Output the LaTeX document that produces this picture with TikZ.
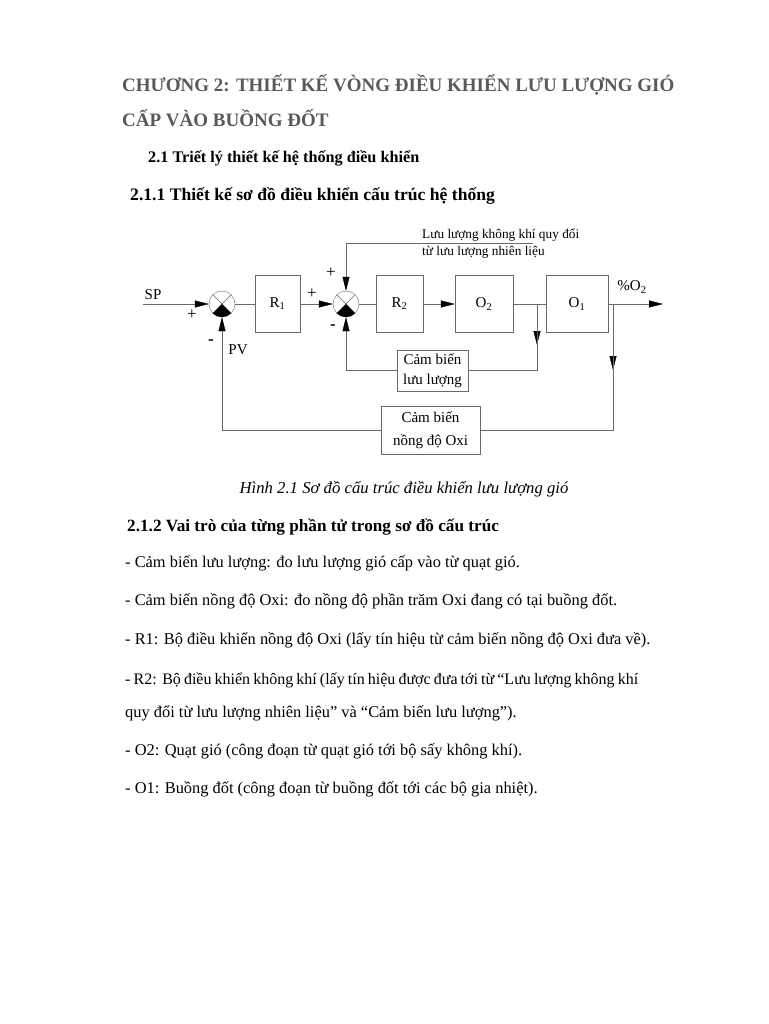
\documentclass[tikz,border=0pt]{standalone}
\usepackage{fontspec}
\setmainfont{Liberation Serif}
\usetikzlibrary{arrows.meta,positioning}

\definecolor{headgray}{RGB}{89,89,89}
\definecolor{linegray}{RGB}{105,105,105}

\tikzset{
  blk/.style={draw=linegray,thin,inner sep=0pt,align=center},
  sumj/.style={circle,draw=linegray,thin,minimum size=26pt,inner sep=0pt},
  sig/.style={linegray,thin},
  arr/.style={linegray,thin,-{Triangle[length=14pt,width=7pt,black]}},
  lbl/.style={font=\fontsize{15}{18}\selectfont},
  sgn/.style={font=\fontsize{17}{17}\selectfont},
  body/.style={anchor=west,inner sep=0pt,font=\fontsize{16.4}{18}\selectfont},
}
\newcommand{\sumcross}[1]{%
  \draw[linegray,thin] (#1.45) -- (#1.225) (#1.135) -- (#1.315);
  \fill[black] (#1.center) -- (#1.225) arc[start angle=225,end angle=315,radius=13pt] -- cycle;}

\begin{document}
\begin{tikzpicture}[x=1pt,y=1pt]
\useasboundingbox (0,0) rectangle (768,-1024);

% Headings
\node[anchor=west,inner sep=0pt,text=headgray,font=\fontsize{19}{20}\selectfont\bfseries] (title1) at (122,-85) {CHƯƠNG 2: THIẾT KẾ VÒNG ĐIỀU KHIỂN LƯU LƯỢNG GIÓ};
\node[anchor=west,inner sep=0pt,text=headgray,font=\fontsize{19}{20}\selectfont\bfseries] (title2) at (122,-118) {CẤP VÀO BUỒNG ĐỐT};
\node[anchor=west,inner sep=0pt,font=\fontsize{16.2}{18}\selectfont\bfseries] (sec21) at (148,-158) {2.1 Triết lý thiết kế hệ thống điều khiển};
\node[anchor=west,inner sep=0pt,font=\fontsize{17.6}{18}\selectfont\bfseries] (sec211) at (130,-196) {2.1.1 Thiết kế sơ đồ điều khiển cấu trúc hệ thống};

% Forward path
\node[sumj] (s1) at (222,-304) {};
\node[blk,minimum width=45pt,minimum height=57pt,lbl] (r1) at (277.5,-304) {R\textsubscript{1}};
\node[sumj] (s2) at (346,-304) {};
\node[blk,minimum width=47pt,minimum height=57pt,lbl] (r2) at (399.5,-304) {R\textsubscript{2}};
\node[blk,minimum width=58pt,minimum height=57pt,lbl] (o2) at (484,-304) {O\textsubscript{2}};
\node[blk,minimum width=62pt,minimum height=57pt,lbl] (o1) at (577,-304) {O\textsubscript{1}};
\sumcross{s1}
\sumcross{s2}

\coordinate (sp) at (143,-304);
\coordinate (out) at (663,-304);
\draw[arr] (sp) -- (s1);
\draw[sig] (s1) -- (r1);
\draw[arr] (r1) -- (s2);
\draw[sig] (s2) -- (r2);
\draw[arr] (r2) -- (o2);
\draw[sig] (o2) -- (o1);
\draw[arr] (o1) -- (out);

% Feedforward from fuel flow
\coordinate (ff) at (533,-243);
\draw[arr] (ff) -| (s2);
\node[anchor=west,inner sep=0pt,align=left,font=\fontsize{13.3}{17}\selectfont] (fftxt) at (422,-243.5) {Lưu lượng không khí quy đổi\\từ lưu lượng nhiên liệu};

% Sensors
\node[blk,minimum width=71pt,minimum height=41pt,font=\fontsize{15}{20}\selectfont] (cbll) at (432.5,-370.5) {Cảm biến\\lưu lượng};
\node[blk,minimum width=99pt,minimum height=48pt,font=\fontsize{15}{23}\selectfont] (cbo) at (430.5,-430) {Cảm biến\\nồng độ Oxi};

% Inner loop
\coordinate (b2) at (537,-304);
\draw[arr] (b2) -- ++(0,-41);
\draw[sig] (b2) |- (cbll);
\draw[arr] (cbll) -| (s2);

% Outer loop
\coordinate (b1) at (613,-304);
\draw[arr] (b1) -- ++(0,-66);
\draw[sig] (b1) |- (cbo);
\draw[arr] (cbo) -| (s1);

% Signal labels
\node[lbl] (splbl) at (153,-295) {SP};
\node[lbl] (pvlbl) at (238,-350) {PV};
\node[lbl] (o2lbl) at (632,-287) {\%O\textsubscript{2}};
\node[sgn] (p1) at (192,-315) {+};
\node[sgn] (m1) at (211,-342) {\textbf{-}};
\node[sgn] (p2) at (312,-294) {+};
\node[sgn] (p3) at (331,-273) {+};
\node[sgn] (m2) at (333,-327) {\textbf{-}};

% Caption and body text
\node[font=\fontsize{16.7}{18}\selectfont\itshape] (cap) at (404,-489) {Hình 2.1 Sơ đồ cấu trúc điều khiển lưu lượng gió};
\node[anchor=west,inner sep=0pt,font=\fontsize{17.2}{18}\selectfont\bfseries] (sec212) at (127,-527) {2.1.2 Vai trò của từng phần tử trong sơ đồ cấu trúc};
\node[body] (t1) at (125,-563) {- Cảm biến lưu lượng: đo lưu lượng gió cấp vào từ quạt gió.};
\node[body] (t2) at (125,-601) {- Cảm biến nồng độ Oxi: đo nồng độ phần trăm Oxi đang có tại buồng đốt.};
\node[body] (t3) at (125,-640) {- R1: Bộ điều khiển nồng độ Oxi (lấy tín hiệu từ cảm biến nồng độ Oxi đưa về).};
\node[body,font=\fontsize{16}{18}\selectfont] (t4) at (125,-680) {\makebox[513pt][s]{\spaceskip=2pt plus 6pt - R2: Bộ điều khiển không khí (lấy tín hiệu được đưa tới từ “Lưu lượng không khí}};
\node[body] (t5) at (125,-713) {quy đổi từ lưu lượng nhiên liệu” và “Cảm biến lưu lượng”).};
\node[body] (t6) at (125,-751) {- O2: Quạt gió (công đoạn từ quạt gió tới bộ sấy không khí).};
\node[body] (t7) at (125,-789) {- O1: Buồng đốt (công đoạn từ buồng đốt tới các bộ gia nhiệt).};
\end{tikzpicture}
\end{document}
